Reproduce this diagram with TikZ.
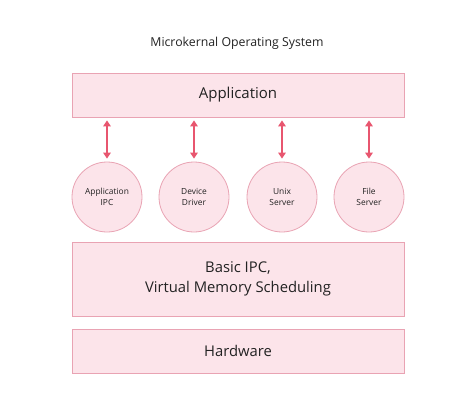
\documentclass[tikz,border=0pt]{standalone}
\usepackage{fontspec}
\setmainfont{Open Sans}
\usepackage{tikz}
\usetikzlibrary{arrows.meta,positioning}
\definecolor{layerfill}{HTML}{FCE4EA}
\definecolor{layerdraw}{HTML}{E9A3B3}
\definecolor{arrowred}{HTML}{E8566F}
\definecolor{textgray}{HTML}{222222}

\begin{document}
\begin{tikzpicture}[x=1pt, y=-1pt,
        layer/.style={draw=layerdraw, fill=layerfill, line width=0.8pt, minimum width=332pt, align=center, text=textgray},
        server/.style={circle, draw=layerdraw, fill=layerfill, line width=0.8pt, minimum size=70pt, inner sep=0pt, align=center, font=\fontsize{8.4}{11}\selectfont, text=textgray},
        link/.style={arrowred, line width=1.5pt, {Triangle[length=6pt,width=7.5pt]}-{Triangle[length=6pt,width=7.5pt]}}
    ]
    \useasboundingbox (0,0) rectangle (474,418);
    % Titel
    \node[font=\fontsize{12.3}{14}\selectfont, text=textgray] (title) at (237,43) {Microkernal Operating System};
    % Schichten
    \node[layer, minimum height=44pt, font=\fontsize{15}{18}\selectfont] (app) at (238,95) {Application};
    \node[layer, minimum height=74pt, font=\fontsize{14.8}{20}\selectfont] (kernel) at (238,279) {Basic IPC,\\Virtual Memory Scheduling};
    \node[layer, minimum height=44pt, font=\fontsize{14.8}{18}\selectfont] (hw) at (238,351) {Hardware};
    % Server
    \node[server] (ipc) at (107,197) {Application\\IPC};
    \node[server] (drv) at (194,197) {Device\\Driver};
    \node[server] (unix) at (282,197) {Unix\\Server};
    \node[server] (file) at (369,197) {File\\Server};
    % Pfeile
    \draw[link] ([yshift=-3pt]app.south -| ipc) -- ([yshift=3pt]ipc.north);
    \draw[link] ([yshift=-3pt]app.south -| drv) -- ([yshift=3pt]drv.north);
    \draw[link] ([yshift=-3pt]app.south -| unix) -- ([yshift=3pt]unix.north);
    \draw[link] ([yshift=-3pt]app.south -| file) -- ([yshift=3pt]file.north);
\end{tikzpicture}
\end{document}
